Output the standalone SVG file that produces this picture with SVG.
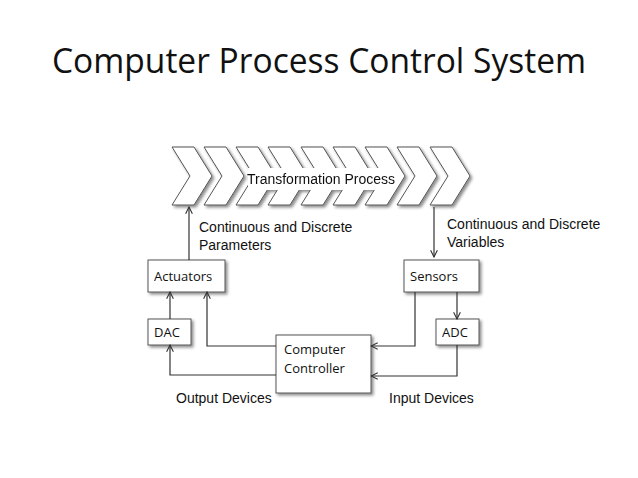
<svg xmlns="http://www.w3.org/2000/svg" width="638" height="478" viewBox="0 0 638 478">
<defs>
<filter id="sh" x="-20%" y="-20%" width="150%" height="150%"><feDropShadow dx="2" dy="2" stdDeviation="1.5" flood-color="#000" flood-opacity="0.45"/></filter>
<marker id="ar" viewBox="0 0 10 10" refX="9" refY="5" markerWidth="7" markerHeight="7" orient="auto"><path d="M1,1 L9,5 L1,9" fill="none" stroke="#333" stroke-width="1.3"/></marker>
<polygon id="chev" points="0,0 22,0 40,29 22,58 0,58 18,29" fill="#fff" stroke="#555" stroke-width="1"/>
</defs>
<style>
.box{fill:#fff;stroke:#555;stroke-width:1;filter:url(#sh)}
.bt{font-family:"Open Sans","Liberation Sans",sans-serif;font-size:13px;fill:#111}
.lt{font-family:"Liberation Sans",Arial,sans-serif;font-size:14px;fill:#111}
.c{fill:none;stroke:#333;stroke-width:1.2;marker-end:url(#ar)}
</style>
<rect width="638" height="478" fill="#fff"/>
<text x="319" y="73" text-anchor="middle" font-family="'Open Sans','Liberation Sans',sans-serif" font-size="34" fill="#111" textLength="534" lengthAdjust="spacingAndGlyphs">Computer Process Control System</text>
<g id="process" filter="url(#sh)">
<use href="#chev" x="172" y="147"/><use href="#chev" x="204" y="147"/><use href="#chev" x="236" y="147"/>
<use href="#chev" x="268" y="147"/><use href="#chev" x="301" y="147"/><use href="#chev" x="333" y="147"/>
<use href="#chev" x="365" y="147"/><use href="#chev" x="397" y="147"/><use href="#chev" x="430" y="147"/>
<rect x="248" y="168" width="148" height="22" fill="#fff"/>
<text x="321" y="184" text-anchor="middle" class="lt">Transformation Process</text>
</g>
<g id="actuators"><rect class="box" x="148" y="260" width="77" height="32"/><text class="bt" x="154" y="281">Actuators</text></g>
<g id="sensors"><rect class="box" x="404" y="260" width="75" height="32"/><text class="bt" x="410" y="281">Sensors</text></g>
<g id="dac"><rect class="box" x="148" y="319" width="43" height="26"/><text class="bt" x="154" y="337">DAC</text></g>
<g id="adc"><rect class="box" x="436" y="319" width="43" height="26"/><text class="bt" x="442" y="337">ADC</text></g>
<g id="controller"><rect class="box" x="276" y="335" width="95" height="58"/><text class="bt" x="284" y="354">Computer</text><text class="bt" x="284" y="373">Controller</text></g>
<g id="connectors">
<path class="c" d="M189,260 V207"/>
<path class="c" d="M434,207 V257"/>
<path class="c" d="M170,319 V292"/>
<path class="c" d="M276,375 H170 V345"/>
<path class="c" d="M276,346 H207 V292"/>
<path class="c" d="M415,292 V346 H371"/>
<path class="c" d="M457,292 V319"/>
<path class="c" d="M457,345 V376 H371"/>
</g>
<g id="labels">
<text class="lt" x="199" y="232">Continuous and Discrete</text>
<text class="lt" x="199" y="250">Parameters</text>
<text class="lt" x="447" y="229">Continuous and Discrete</text>
<text class="lt" x="447" y="247">Variables</text>
<text class="lt" x="176" y="403">Output Devices</text>
<text class="lt" x="389" y="403">Input Devices</text>
</g>
</svg>
